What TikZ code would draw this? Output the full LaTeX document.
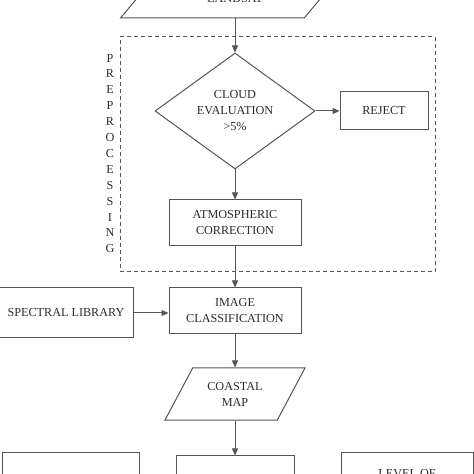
\documentclass[tikz,border=0pt]{standalone}
\usepackage{fontspec}
\setmainfont{Liberation Serif}
\usetikzlibrary{shapes.geometric,arrows.meta}

\definecolor{linegray}{HTML}{555555}
\definecolor{textgray}{HTML}{2B2B2B}

\tikzstyle{box} = [draw=linegray, line width=1pt, text=textgray, align=center, inner sep=0pt]
\tikzstyle{process} = [box, rectangle]
\tikzstyle{decision} = [box, diamond, aspect=1.38, minimum width=160pt, minimum height=116pt]
\tikzstyle{data} = [box, trapezium, trapezium stretches body]
\tikzstyle{group} = [draw=linegray, line width=1pt, dash pattern=on 4pt off 3pt, inner sep=0pt]
\tikzstyle{flow} = [draw=linegray, line width=1pt, -{Triangle[length=7pt,width=6pt]}]

\begin{document}
\begin{tikzpicture}[x=1pt, y=1pt, font=\fontsize{12.2}{16}\selectfont]
\useasboundingbox (0,0) rectangle (474,474);
\clip (0,0) rectangle (474,474);

% input
\node[data, trapezium left angle=50, trapezium right angle=130, inner ysep=27pt, minimum width=229pt] (lsat) at (235,483) {};
\node[text=textgray] (lsatlabel) at (235,475) {LANDSAT};

% preprocessing
\node[group, minimum width=315pt, minimum height=235pt] (prep) at (277.5,319.5) {};
\node[text=textgray, align=center, font=\fontsize{12.2}{15.9}\selectfont] (preplabel) at (110,320.5) {P\\R\\E\\P\\R\\O\\C\\E\\S\\S\\I\\N\\G};
\node[decision] (cloud) at (235,363) {CLOUD\\EVALUATION\\>5\%};
\node[process, minimum width=88pt, minimum height=38pt] (reject) at (384,363) {REJECT};
\node[process, minimum width=132pt, minimum height=46pt] (atmos) at (235,251) {ATMOSPHERIC\\CORRECTION};

% classification
\node[process, minimum width=132pt, minimum height=46pt] (classif) at (235,163) {IMAGE\\CLASSIFICATION};
\node[process, minimum width=134pt, minimum height=50pt] (speclib) at (66,161) {SPECTRAL LIBRARY};
\node[data, trapezium left angle=62, trapezium right angle=118, inner ysep=14pt, minimum width=140pt] (coast) at (235,80) {COASTAL\\MAP};

% output
\node[process, minimum width=137pt, minimum height=44pt] (outleft) at (70.5,-1) {};
\node[process, minimum width=118pt, minimum height=44pt] (outmid) at (235,-4) {};
\node[process, minimum width=132pt, minimum height=41pt] (level) at (407,0.5) {LEVEL OF};

\draw[flow] (lsat.bottom left corner -| cloud.north) -- (cloud.north);
\draw[flow] (cloud.east) -- (reject.west);
\draw[flow] (cloud.south) -- (atmos.north);
\draw[flow] (atmos.south) -- (classif.north);
\draw[flow] (speclib.east) -- (speclib.east -| classif.west);
\draw[flow] (classif.south) -- (coast.top left corner -| classif.south);
\draw[flow] (coast.bottom left corner -| outmid.north) -- (outmid.north);
\end{tikzpicture}
\end{document}
